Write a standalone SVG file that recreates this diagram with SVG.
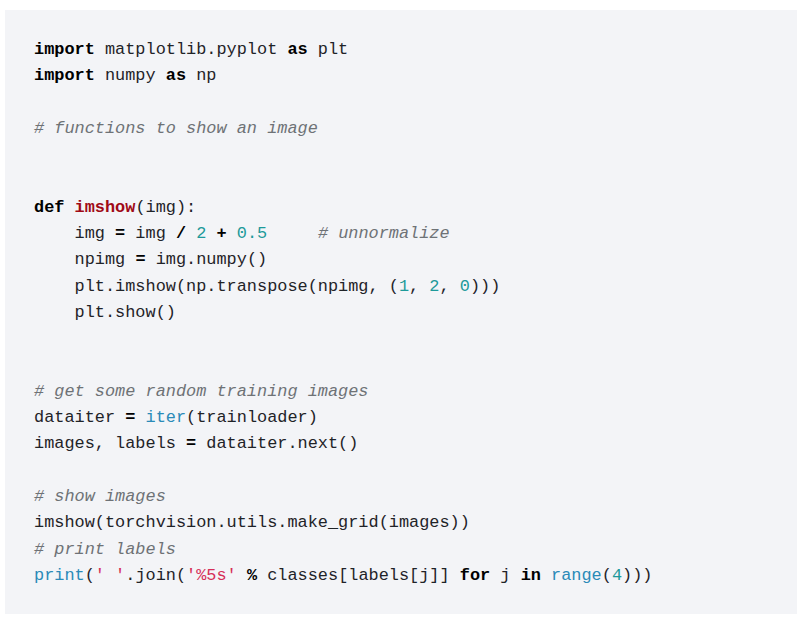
<svg xmlns="http://www.w3.org/2000/svg" width="798" height="625" viewBox="0 0 798 625">
<style>
text{font-family:"Liberation Mono","DejaVu Sans Mono",monospace;font-size:16.9px;fill:#1f2328;white-space:pre}
.k{font-weight:bold;fill:#000}
.f{font-weight:bold;fill:#a00a16}
.n{fill:#1d9a9a}
.c{font-style:italic;fill:#6e7276}
.s{fill:#d62e58}
.b{fill:#2a8ab8}
</style>
<rect width="798" height="625" fill="#fff"/>
<rect x="5" y="10" width="792" height="604" fill="#f3f4f7"/>
<g id="code" xml:space="preserve">
<text x="34" y="54"><tspan class="k">import</tspan> matplotlib.pyplot <tspan class="k">as</tspan> plt</text>
<text x="34" y="80"><tspan class="k">import</tspan> numpy <tspan class="k">as</tspan> np</text>
<text x="34" y="133" class="c"># functions to show an image</text>
<text x="34" y="212"><tspan class="k">def</tspan> <tspan class="f">imshow</tspan>(img):</text>
<text x="34" y="238">    img <tspan class="k">=</tspan> img <tspan class="k">/</tspan> <tspan class="n">2</tspan> <tspan class="k">+</tspan> <tspan class="n">0.5</tspan>     <tspan class="c"># unnormalize</tspan></text>
<text x="34" y="264">    npimg <tspan class="k">=</tspan> img.numpy()</text>
<text x="34" y="291">    plt.imshow(np.transpose(npimg, (<tspan class="n">1</tspan>, <tspan class="n">2</tspan>, <tspan class="n">0</tspan>)))</text>
<text x="34" y="317">    plt.show()</text>
<text x="34" y="396" class="c"># get some random training images</text>
<text x="34" y="422">dataiter <tspan class="k">=</tspan> <tspan class="b">iter</tspan>(trainloader)</text>
<text x="34" y="448">images, labels <tspan class="k">=</tspan> dataiter.next()</text>
<text x="34" y="501" class="c"># show images</text>
<text x="34" y="527">imshow(torchvision.utils.make_grid(images))</text>
<text x="34" y="554" class="c"># print labels</text>
<text x="34" y="580"><tspan class="b">print</tspan>(<tspan class="s">' '</tspan>.join(<tspan class="s">'%5s'</tspan> <tspan class="k">%</tspan> classes[labels[j]] <tspan class="k">for</tspan> j <tspan class="k">in</tspan> <tspan class="b">range</tspan>(<tspan class="n">4</tspan>)))</text>
</g>
</svg>
